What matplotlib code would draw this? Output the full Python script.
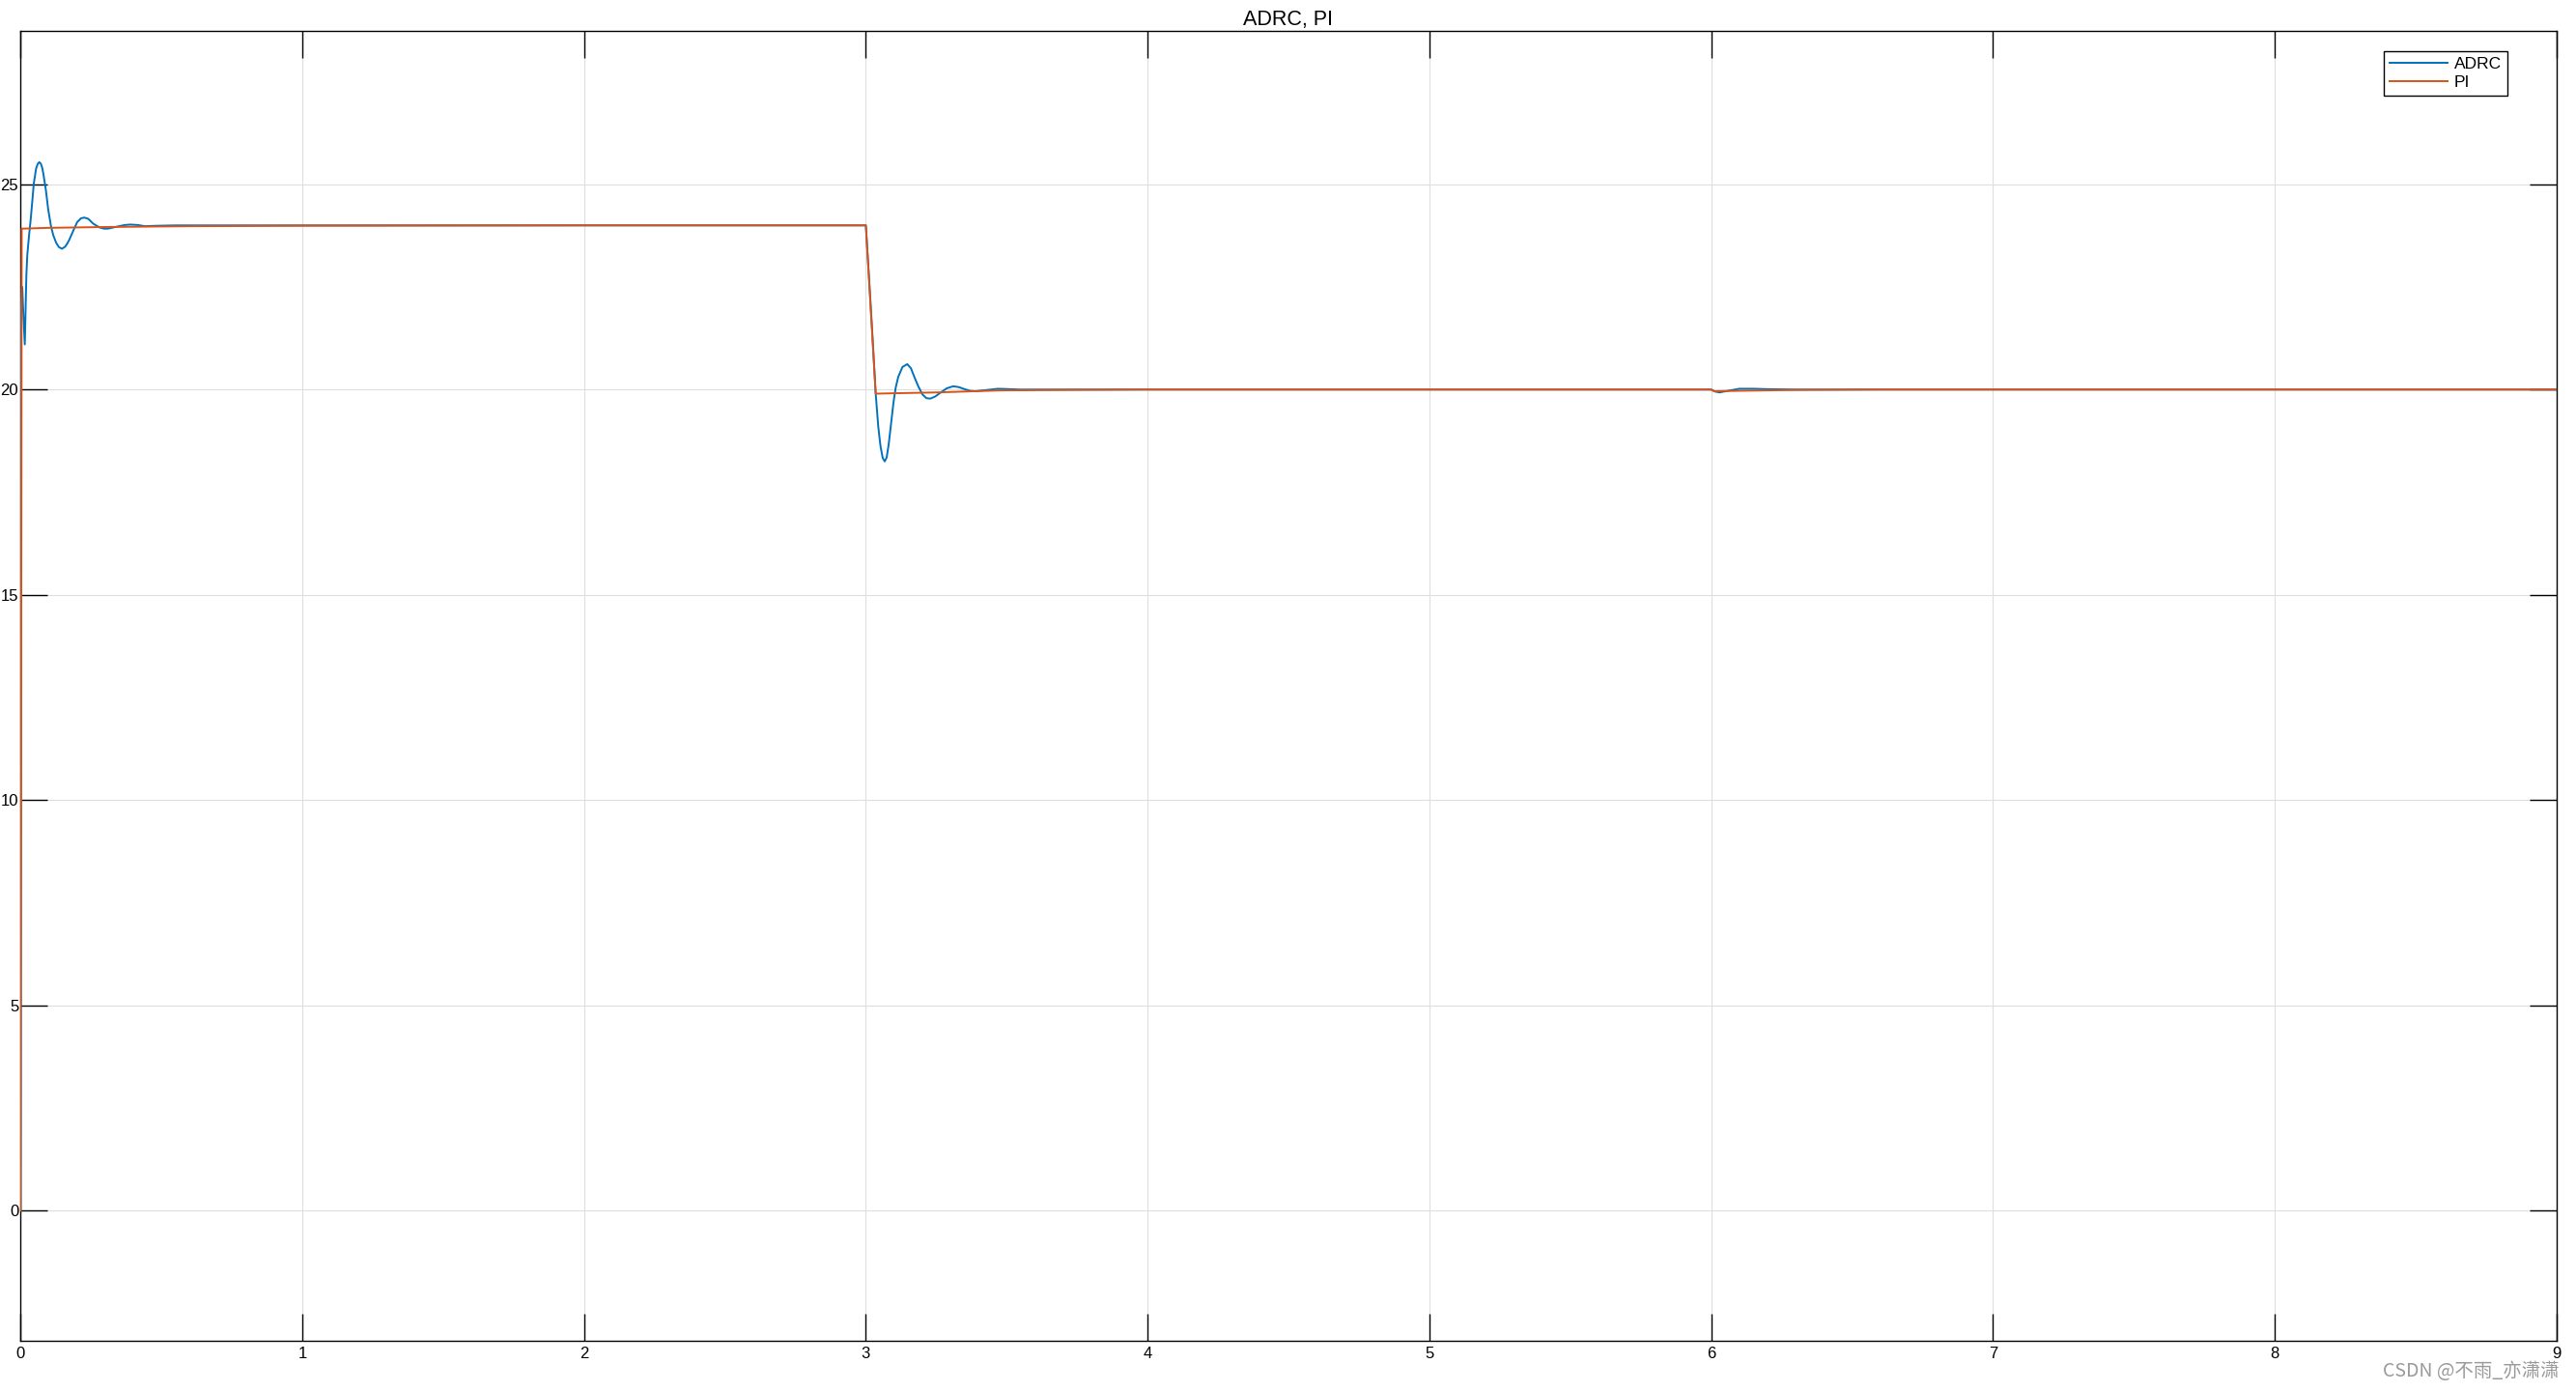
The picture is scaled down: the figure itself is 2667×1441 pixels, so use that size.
#!/bin/env python
import matplotlib
matplotlib.use("Agg")
import matplotlib.pyplot as plt

# ADRC response (time in s, value)
adrc_t = [0.0, 0.002, 0.006, 0.010, 0.015, 0.0206, 0.024, 0.030, 0.036, 0.042, 0.047,
          0.055, 0.061, 0.0665, 0.072, 0.077, 0.081, 0.090, 0.098, 0.108, 0.116,
          0.126, 0.136, 0.147, 0.158, 0.166, 0.173, 0.187, 0.201, 0.214, 0.226,
          0.240, 0.258, 0.280, 0.296, 0.310, 0.330, 0.350, 0.370, 0.390, 0.415,
          0.441, 0.480, 0.550, 1.0, 2.0, 3.0,
          3.012, 3.024, 3.035, 3.044, 3.052, 3.060, 3.067, 3.074, 3.081, 3.090,
          3.098, 3.106, 3.115, 3.130, 3.147, 3.160, 3.172, 3.186, 3.201, 3.215,
          3.229, 3.246, 3.264, 3.287, 3.310, 3.330, 3.350, 3.370, 3.389, 3.430,
          3.469, 3.510, 3.550, 3.700, 4.0, 5.0, 6.0,
          6.015, 6.030, 6.060, 6.100, 6.150, 6.200, 6.300, 7.0, 8.0, 9.0]
adrc_v = [0.0, 22.0, 22.5, 21.8, 21.1, 22.8, 23.29, 23.75, 24.15, 24.62, 25.02,
          25.38, 25.50, 25.54, 25.50, 25.40, 25.25, 24.85, 24.39, 23.98, 23.76,
          23.58, 23.47, 23.43, 23.48, 23.56, 23.65, 23.87, 24.08, 24.17, 24.19,
          24.16, 24.04, 23.95, 23.92, 23.92, 23.95, 23.98, 24.01, 24.02, 24.01,
          23.98, 23.99, 24.0, 24.0, 24.0, 24.0,
          22.65, 21.25, 19.90, 19.10, 18.62, 18.33, 18.25, 18.35, 18.66, 19.20,
          19.68, 20.05, 20.31, 20.55, 20.62, 20.52, 20.31, 20.08, 19.88, 19.79,
          19.78, 19.83, 19.92, 20.03, 20.08, 20.06, 20.01, 19.97, 19.96, 19.99,
          20.02, 20.01, 20.0, 20.0, 20.0, 20.0, 20.0,
          19.95, 19.93, 19.97, 20.02, 20.02, 20.01, 20.0, 20.0, 20.0, 20.0]

# PI response
pi_t = [0.0, 0.004, 0.10, 0.30, 0.60, 1.0, 2.0, 3.0,
        3.035, 3.10, 3.25, 3.478, 3.70, 4.0, 5.0, 6.0,
        6.010, 6.10, 6.30, 6.60, 7.0, 8.0, 9.0]
pi_v = [0.0, 23.92, 23.94, 23.96, 23.98, 23.99, 24.0, 24.0,
        19.90, 19.91, 19.93, 19.98, 19.99, 20.0, 20.0, 20.0,
        19.96, 19.97, 19.99, 20.0, 20.0, 20.0, 20.0]

x_ticks = [0, 1, 2, 3, 4, 5, 6, 7, 8, 9]
y_ticks = [0, 5, 10, 15, 20, 25]

W, H = 2667, 1441


def main():
    plt.rcParams['font.family'] = ['Liberation Sans', 'DejaVu Sans']
    fig = plt.figure(figsize=(W / 100, H / 100), dpi=100)
    left, right = 21.3 / W, 2646.7 / W
    bottom, top = 1 - 1388.3 / H, 1 - 32.3 / H
    ax = fig.add_axes([left, bottom, right - left, top - bottom])

    ax.plot(adrc_t, adrc_v, color='#0072BD', lw=1.4, label='ADRC', zorder=3)
    ax.plot(pi_t, pi_v, color='#D95319', lw=1.4, label='PI', zorder=4)

    ax.set_xlim(0, 9)
    ax.set_ylim(-3.18, 28.73)
    ax.set_xticks(x_ticks)
    ax.set_yticks(y_ticks)
    ax.grid(True, color='#dedede', lw=0.8)
    ax.set_axisbelow(True)
    ax.tick_params(direction='in', length=20, width=1.0, top=True, right=True,
                   labelsize=12, color='black')
    ax.tick_params(axis='y', pad=1.5)
    ax.tick_params(axis='x', pad=4)
    for sp in ax.spines.values():
        sp.set_linewidth(1.0)
        sp.set_color('black')

    ax.set_title('ADRC, PI', fontsize=15.5, pad=4.7)

    leg = ax.legend(loc='upper right', bbox_to_anchor=(0.9806, 0.985),
                    borderaxespad=0, fontsize=12.5, fancybox=False,
                    framealpha=1, edgecolor='black', handlelength=3.5,
                    handletextpad=0.35, borderpad=0.35, labelspacing=0.25)
    leg.get_frame().set_linewidth(1.0)

    fig.text(2650 / W, 1 - 1425 / H, 'CSDN @不雨_亦潇潇', ha='right', va='baseline',
             fontsize=14, color='#9a9a9a',
             family=['Noto Sans CJK SC', 'DejaVu Sans'])

    fig.savefig('out.png', dpi=100, facecolor='white')


if __name__ == '__main__':
    main()
